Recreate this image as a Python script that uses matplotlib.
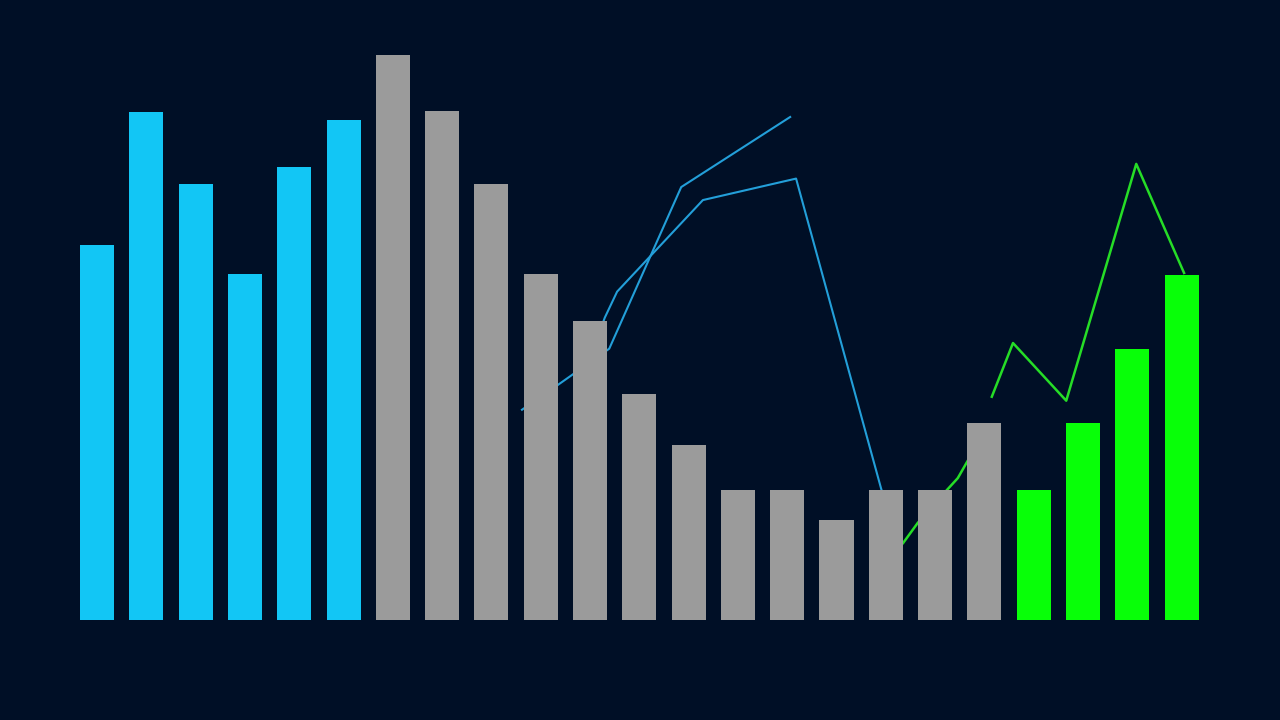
import matplotlib
matplotlib.use("Agg")
import matplotlib.pyplot as plt
import numpy as np

# Bar values (23 bars: 6 blue, 13 gray, 4 green)
blue_vals = [66.4, 89.9, 77.2, 61.2, 80.2, 88.5]
gray_vals = [100.0, 90.1, 77.2, 61.2, 52.9, 40.0, 31.0, 23.0, 23.0, 17.7, 23.0, 23.0, 34.9]
green_vals = [23.0, 34.9, 48.0, 61.1]

# Thin line series (x in bar-index units, y in value units)
lineA_x = [8.62, 9.35, 10.39, 11.85, 14.06]
lineA_y = [37.2, 41.6, 48.0, 76.6, 89.0]
lineB_x = [10.10, 10.30, 10.55, 12.29, 14.18, 15.90, 16.00]
lineB_y = [48.7, 53.5, 58.1, 74.3, 78.1, 23.4, 20.4]
green1_x = [16.13, 16.35, 16.65, 17.24, 17.46, 17.67, 17.82]
green1_y = [11.5, 13.6, 17.2, 23.0, 25.1, 28.3, 30.1]
green2_x = [18.15, 18.58, 19.66, 21.08, 22.05]
green2_y = [39.5, 49.0, 38.8, 80.7, 61.4]

BG = "#000f26"
BLUE = "#12c6f5"
GRAY = "#9b9b9b"
GREEN = "#08ff08"
LINE_BLUE = "#239fd9"
LINE_GREEN = "#26dd26"

fig = plt.figure(figsize=(12.8, 7.2), dpi=100)
fig.patch.set_facecolor(BG)
ax = fig.add_axes([0, 0, 1, 1])
ax.set_facecolor(BG)

vals = blue_vals + gray_vals + green_vals
colors = [BLUE] * len(blue_vals) + [GRAY] * len(gray_vals) + [GREEN] * len(green_vals)
x = np.arange(len(vals))

ax.plot(lineA_x, lineA_y, color=LINE_BLUE, lw=1.5, zorder=1)
ax.plot(lineB_x, lineB_y, color=LINE_BLUE, lw=1.5, zorder=1)
ax.plot(green1_x, green1_y, color=LINE_GREEN, lw=1.8, zorder=1)
ax.plot(green2_x, green2_y, color=LINE_GREEN, lw=1.8, zorder=1)

ax.bar(x, vals, width=0.69, color=colors, linewidth=0, zorder=2)

ax.set_xlim(-1.968, 23.996)
ax.set_ylim(-17.7, 109.7)
ax.axis("off")

fig.savefig("out.png", dpi=100, facecolor=BG)
